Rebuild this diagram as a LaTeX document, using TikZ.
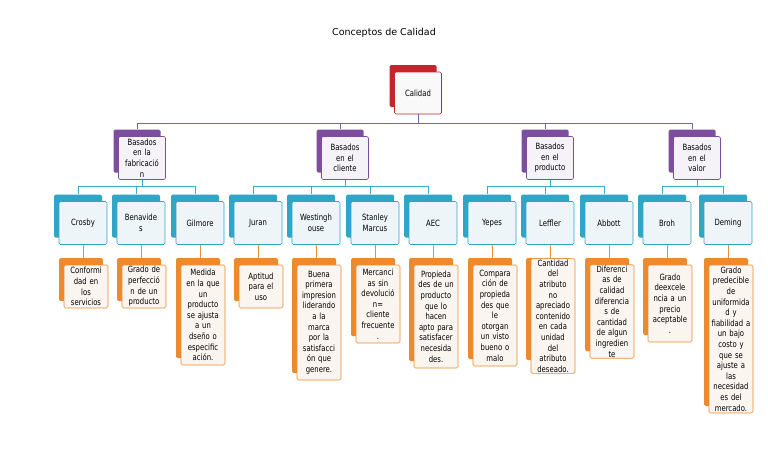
\documentclass[tikz,border=0pt]{standalone}
\usepackage{fontspec}
\setmainfont[FakeStretch=0.8]{DejaVu Sans}
\newfontfamily\titlefont{DejaVu Sans}
\definecolor{cRed}{HTML}{C1272D}
\definecolor{cPur}{HTML}{7E4E9E}
\definecolor{cTeal}{HTML}{2FA5C8}
\definecolor{cOra}{HTML}{EE8A2E}
\definecolor{fTeal}{HTML}{EEF5F8}
\definecolor{fOra}{HTML}{FBF5EF}
\definecolor{fPur}{HTML}{F6F3F8}
\definecolor{lPur}{HTML}{7C62A8}
\definecolor{lTeal}{HTML}{3BA9CA}
\definecolor{lOra}{HTML}{E8913A}
\tikzset{
 backbox/.style={rectangle,rounded corners=1.5pt,inner sep=0pt},
 frontbox/.style={rectangle,rounded corners=1.5pt,line width=0.6pt,inner sep=1pt,align=center,font=\fontsize{8.6}{10.6}\selectfont},
 plink/.style={lPur,line width=1pt},
 tlink/.style={lTeal,line width=1pt},
 olink/.style={lOra,line width=1pt}
}
% name, cx, cy, w, h, back colour, front fill, text
\newcommand\dbx[8]{%
 \node[backbox,fill=#6,minimum width=#4 pt,minimum height=#5 pt] (#1b) at ({#2-5},{#3-7}) {};
 \node[frontbox,draw=#6,fill=#7,minimum width=#4 pt,minimum height=#5 pt,text width=#4 pt - 2pt] (#1) at (#2,#3) {#8};}
\begin{document}
\begin{tikzpicture}[x=1pt,y=-1pt]
\useasboundingbox (0,0) rectangle (768,466);
\node[font=\titlefont\fontsize{9.5}{11}\selectfont] (title) at (384,33) {Conceptos de Calidad};
% level 0
\dbx{cal}{418}{93}{47}{42}{cRed}{white!95!gray}{Calidad}
% level 1
\dbx{fab}{142}{158}{47}{43}{cPur}{fPur}{Basados\\ en la\\ fabricació\\ n}
\dbx{cli}{345}{158}{47}{43}{cPur}{fPur}{Basados\\ en el\\ cliente}
\dbx{pro}{550}{158}{47}{43}{cPur}{fPur}{Basados\\ en el\\ producto}
\dbx{val}{697}{158}{47}{43}{cPur}{fPur}{Basados\\ en el\\ valor}
% level 2
\dbx{cro}{83}{223}{48}{43}{cTeal}{fTeal}{Crosby}
\dbx{ben}{141}{223}{48}{43}{cTeal}{fTeal}{Benavide\\ s}
\dbx{gil}{200}{223}{48}{43}{cTeal}{fTeal}{Gilmore}
\dbx{jur}{258}{223}{48}{43}{cTeal}{fTeal}{Juran}
\dbx{wes}{316}{223}{48}{43}{cTeal}{fTeal}{Westingh\\ ouse}
\dbx{sta}{375}{223}{48}{43}{cTeal}{fTeal}{Stanley\\ Marcus}
\dbx{aec}{433}{223}{48}{43}{cTeal}{fTeal}{AEC}
\dbx{yep}{492}{223}{48}{43}{cTeal}{fTeal}{Yepes}
\dbx{lef}{550}{223}{48}{43}{cTeal}{fTeal}{Leffler}
\dbx{abb}{609}{223}{48}{43}{cTeal}{fTeal}{Abbott}
\dbx{bro}{667}{223}{48}{43}{cTeal}{fTeal}{Broh}
\dbx{dem}{728}{223}{48}{43}{cTeal}{fTeal}{Deming}
% level 3
\dbx{croD}{86}{286.5}{44}{43}{cOra}{fOra}{Conformi\\ dad en\\ los\\ servicios}
\dbx{benD}{144}{286.5}{44}{43}{cOra}{fOra}{Grado de\\ perfecció\\ n de un\\ producto}
\dbx{gilD}{203}{315}{44}{100}{cOra}{fOra}{Medida\\ en la que\\ un\\ producto\\ se ajusta\\ a un\\ dseño o\\ especific\\ ación.}
\dbx{jurD}{261}{286.5}{44}{43}{cOra}{fOra}{Aptitud\\ para el\\ uso}
\dbx{wesD}{319}{322.5}{44}{115}{cOra}{fOra}{Buena\\ primera\\ impresion\\ liderando\\ a la\\ marca\\ por la\\ satisfacci\\ ón que\\ genere.}
\dbx{staD}{378}{304}{44}{78}{cOra}{fOra}{Mercanci\\ as sin\\ devolució\\ n=\\ cliente\\ frecuente\\ .}
\dbx{aecD}{436}{316.5}{44}{103}{cOra}{fOra}{Propieda\\ des de un\\ producto\\ que lo\\ hacen\\ apto para\\ satisfacer\\ necesida\\ des.}
\dbx{yepD}{495}{315.5}{44}{101}{cOra}{fOra}{Compara\\ ción de\\ propieda\\ des que\\ le\\ otorgan\\ un visto\\ bueno o\\ malo}
\dbx{lefD}{553}{316}{44}{102}{cOra}{fOra}{Cantidad\\ del\\ atributo\\ no\\ apreciado\\ contenido\\ en cada\\ unidad\\ del\\ atributo\\ deseado.}
\dbx{abbD}{612}{311.5}{44}{93}{cOra}{fOra}{Diferenci\\ as de\\ calidad\\ diferencia\\ s de\\ cantidad\\ de algun\\ ingredien\\ te}
\dbx{broD}{670}{303.5}{44}{77}{cOra}{fOra}{Grado\\ deexcele\\ ncia a un\\ precio\\ aceptable\\ .}
\dbx{demD}{731}{339}{44}{148}{cOra}{fOra}{Grado\\ predecible\\ de\\ uniformida\\ d y\\ fiabilidad a\\ un bajo\\ costo y\\ que se\\ ajuste a\\ las\\ necesidad\\ es del\\ mercado.}
% connectors level 0-1
\coordinate (pbar) at (cal.south |- 0,123);
\draw[plink] (cal.south) -- (pbar);
\draw[plink] (fabb.north |- pbar) -- (valb.north |- pbar);
\foreach \n in {fab,cli,pro,val} \draw[plink] (\n b.north |- pbar) -- (\n b.north);
% connectors level 1-2
\draw[tlink] (crob.north |- 0,186) -- (gilb.north |- 0,186);
\draw[tlink] (jurb.north |- 0,186) -- (aecb.north |- 0,186);
\draw[tlink] (yepb.north |- 0,186) -- (abbb.north |- 0,186);
\draw[tlink] (brob.north |- 0,186) -- (demb.north |- 0,186);
\foreach \p in {fab,cli,pro,val} \draw[tlink] (\p.south) -- (\p.south |- 0,186);
\foreach \c in {cro,ben,gil,jur,wes,sta,aec,yep,lef,abb,bro,dem} {
  \draw[tlink] (\c b.north |- 0,186) -- (\c b.north);
  \draw[olink] (\c.south) -- (\c.south |- \c Db.north);
}
\end{tikzpicture}
\end{document}
